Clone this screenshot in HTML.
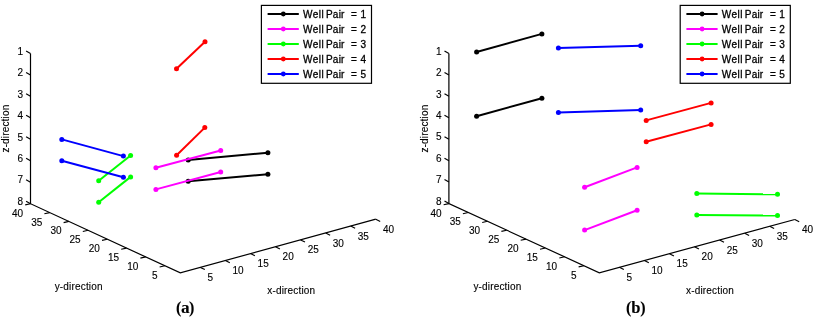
<!DOCTYPE html>
<html><head><meta charset="utf-8"><title>Well pairs</title>
<style>
html,body{margin:0;padding:0;background:#fff;}
svg{display:block;}
text{font-family:"Liberation Sans",Arial,sans-serif;font-size:10.0px;fill:#000;stroke:#000;stroke-width:0.12px;}
text.lg{stroke-width:0.3px;}
text.cap{font-family:"Liberation Serif","Times New Roman",serif;font-weight:bold;font-size:16px;stroke-width:0.1px;}
</style></head><body>
<svg width="814" height="317" viewBox="0 0 814 317">
<rect width="814" height="317" fill="#fff"/>
<polyline points="30.5,53.4 30.5,203.7 180.3,272.9 375.8,219.2" fill="none" stroke="#000" stroke-width="1.2" stroke-linejoin="miter"/>
<line x1="30.5" y1="53.4" x2="26.1" y2="50.9" stroke="#000" stroke-width="1.15"/>
<text x="23.1" y="54.6" text-anchor="end">1</text>
<line x1="30.5" y1="74.9" x2="26.1" y2="72.4" stroke="#000" stroke-width="1.15"/>
<text x="23.1" y="76.1" text-anchor="end">2</text>
<line x1="30.5" y1="96.3" x2="26.1" y2="93.8" stroke="#000" stroke-width="1.15"/>
<text x="23.1" y="97.5" text-anchor="end">3</text>
<line x1="30.5" y1="117.8" x2="26.1" y2="115.3" stroke="#000" stroke-width="1.15"/>
<text x="23.1" y="119.0" text-anchor="end">4</text>
<line x1="30.5" y1="139.3" x2="26.1" y2="136.8" stroke="#000" stroke-width="1.15"/>
<text x="23.1" y="140.5" text-anchor="end">5</text>
<line x1="30.5" y1="160.8" x2="26.1" y2="158.3" stroke="#000" stroke-width="1.15"/>
<text x="23.1" y="162.0" text-anchor="end">6</text>
<line x1="30.5" y1="182.2" x2="26.1" y2="179.7" stroke="#000" stroke-width="1.15"/>
<text x="23.1" y="183.4" text-anchor="end">7</text>
<line x1="30.5" y1="203.7" x2="26.1" y2="201.2" stroke="#000" stroke-width="1.15"/>
<text x="23.1" y="204.9" text-anchor="end">8</text>
<line x1="164.9" y1="265.8" x2="159.6" y2="267.0" stroke="#000" stroke-width="1.15"/>
<text x="157.5" y="278.7" text-anchor="end">5</text>
<line x1="145.7" y1="256.9" x2="140.4" y2="258.1" stroke="#000" stroke-width="1.15"/>
<text x="138.3" y="269.8" text-anchor="end">10</text>
<line x1="126.5" y1="248.1" x2="121.2" y2="249.3" stroke="#000" stroke-width="1.15"/>
<text x="119.1" y="261.0" text-anchor="end">15</text>
<line x1="107.3" y1="239.2" x2="102.0" y2="240.4" stroke="#000" stroke-width="1.15"/>
<text x="99.9" y="252.1" text-anchor="end">20</text>
<line x1="88.1" y1="230.3" x2="82.8" y2="231.5" stroke="#000" stroke-width="1.15"/>
<text x="80.7" y="243.2" text-anchor="end">25</text>
<line x1="68.9" y1="221.4" x2="63.6" y2="222.6" stroke="#000" stroke-width="1.15"/>
<text x="61.5" y="234.3" text-anchor="end">30</text>
<line x1="49.7" y1="212.6" x2="44.4" y2="213.8" stroke="#000" stroke-width="1.15"/>
<text x="42.3" y="225.5" text-anchor="end">35</text>
<line x1="30.5" y1="203.7" x2="25.2" y2="204.9" stroke="#000" stroke-width="1.15"/>
<text x="23.1" y="216.6" text-anchor="end">40</text>
<line x1="200.4" y1="267.4" x2="204.8" y2="269.6" stroke="#000" stroke-width="1.15"/>
<text x="207.5" y="280.9" text-anchor="start">5</text>
<line x1="225.4" y1="260.5" x2="229.8" y2="262.7" stroke="#000" stroke-width="1.15"/>
<text x="232.5" y="274.0" text-anchor="start">10</text>
<line x1="250.5" y1="253.6" x2="254.9" y2="255.8" stroke="#000" stroke-width="1.15"/>
<text x="257.6" y="267.1" text-anchor="start">15</text>
<line x1="275.5" y1="246.7" x2="279.9" y2="248.9" stroke="#000" stroke-width="1.15"/>
<text x="282.6" y="260.2" text-anchor="start">20</text>
<line x1="300.6" y1="239.9" x2="305.0" y2="242.1" stroke="#000" stroke-width="1.15"/>
<text x="307.7" y="253.4" text-anchor="start">25</text>
<line x1="325.7" y1="233.0" x2="330.1" y2="235.2" stroke="#000" stroke-width="1.15"/>
<text x="332.8" y="246.5" text-anchor="start">30</text>
<line x1="350.7" y1="226.1" x2="355.1" y2="228.3" stroke="#000" stroke-width="1.15"/>
<text x="357.8" y="239.6" text-anchor="start">35</text>
<line x1="375.8" y1="219.2" x2="380.2" y2="221.4" stroke="#000" stroke-width="1.15"/>
<text x="382.9" y="232.7" text-anchor="start">40</text>
<text x="78.7" y="289.6" text-anchor="middle" letter-spacing="0.17">y-direction</text>
<text x="291.3" y="293.5" text-anchor="middle" letter-spacing="0.17">x-direction</text>
<text transform="translate(9.1,128.6) rotate(-90)" text-anchor="middle" letter-spacing="0.17">z-direction</text>
<polyline points="448.9,53.4 448.9,203.6 599.3,272.8 794.8,219.5" fill="none" stroke="#000" stroke-width="1.2" stroke-linejoin="miter"/>
<line x1="448.9" y1="53.4" x2="444.5" y2="50.9" stroke="#000" stroke-width="1.15"/>
<text x="441.5" y="54.6" text-anchor="end">1</text>
<line x1="448.9" y1="74.9" x2="444.5" y2="72.4" stroke="#000" stroke-width="1.15"/>
<text x="441.5" y="76.1" text-anchor="end">2</text>
<line x1="448.9" y1="96.3" x2="444.5" y2="93.8" stroke="#000" stroke-width="1.15"/>
<text x="441.5" y="97.5" text-anchor="end">3</text>
<line x1="448.9" y1="117.8" x2="444.5" y2="115.3" stroke="#000" stroke-width="1.15"/>
<text x="441.5" y="119.0" text-anchor="end">4</text>
<line x1="448.9" y1="139.2" x2="444.5" y2="136.7" stroke="#000" stroke-width="1.15"/>
<text x="441.5" y="140.4" text-anchor="end">5</text>
<line x1="448.9" y1="160.7" x2="444.5" y2="158.2" stroke="#000" stroke-width="1.15"/>
<text x="441.5" y="161.9" text-anchor="end">6</text>
<line x1="448.9" y1="182.1" x2="444.5" y2="179.6" stroke="#000" stroke-width="1.15"/>
<text x="441.5" y="183.3" text-anchor="end">7</text>
<line x1="448.9" y1="203.6" x2="444.5" y2="201.1" stroke="#000" stroke-width="1.15"/>
<text x="441.5" y="204.8" text-anchor="end">8</text>
<line x1="583.9" y1="265.7" x2="578.6" y2="266.9" stroke="#000" stroke-width="1.15"/>
<text x="576.5" y="278.6" text-anchor="end">5</text>
<line x1="564.6" y1="256.8" x2="559.3" y2="258.0" stroke="#000" stroke-width="1.15"/>
<text x="557.2" y="269.7" text-anchor="end">10</text>
<line x1="545.3" y1="248.0" x2="540.0" y2="249.2" stroke="#000" stroke-width="1.15"/>
<text x="537.9" y="260.9" text-anchor="end">15</text>
<line x1="526.0" y1="239.1" x2="520.7" y2="240.3" stroke="#000" stroke-width="1.15"/>
<text x="518.6" y="252.0" text-anchor="end">20</text>
<line x1="506.7" y1="230.2" x2="501.4" y2="231.4" stroke="#000" stroke-width="1.15"/>
<text x="499.3" y="243.1" text-anchor="end">25</text>
<line x1="487.5" y1="221.3" x2="482.2" y2="222.5" stroke="#000" stroke-width="1.15"/>
<text x="480.1" y="234.2" text-anchor="end">30</text>
<line x1="468.2" y1="212.5" x2="462.9" y2="213.7" stroke="#000" stroke-width="1.15"/>
<text x="460.8" y="225.4" text-anchor="end">35</text>
<line x1="448.9" y1="203.6" x2="443.6" y2="204.8" stroke="#000" stroke-width="1.15"/>
<text x="441.5" y="216.5" text-anchor="end">40</text>
<line x1="619.4" y1="267.3" x2="623.8" y2="269.5" stroke="#000" stroke-width="1.15"/>
<text x="626.5" y="280.8" text-anchor="start">5</text>
<line x1="644.4" y1="260.5" x2="648.8" y2="262.7" stroke="#000" stroke-width="1.15"/>
<text x="651.5" y="274.0" text-anchor="start">10</text>
<line x1="669.5" y1="253.7" x2="673.9" y2="255.9" stroke="#000" stroke-width="1.15"/>
<text x="676.6" y="267.2" text-anchor="start">15</text>
<line x1="694.5" y1="246.8" x2="698.9" y2="249.0" stroke="#000" stroke-width="1.15"/>
<text x="701.6" y="260.3" text-anchor="start">20</text>
<line x1="719.6" y1="240.0" x2="724.0" y2="242.2" stroke="#000" stroke-width="1.15"/>
<text x="726.7" y="253.5" text-anchor="start">25</text>
<line x1="744.7" y1="233.2" x2="749.1" y2="235.4" stroke="#000" stroke-width="1.15"/>
<text x="751.8" y="246.7" text-anchor="start">30</text>
<line x1="769.7" y1="226.3" x2="774.1" y2="228.5" stroke="#000" stroke-width="1.15"/>
<text x="776.8" y="239.8" text-anchor="start">35</text>
<line x1="794.8" y1="219.5" x2="799.2" y2="221.7" stroke="#000" stroke-width="1.15"/>
<text x="801.9" y="233.0" text-anchor="start">40</text>
<text x="497.4" y="289.6" text-anchor="middle" letter-spacing="0.17">y-direction</text>
<text x="710.0" y="293.5" text-anchor="middle" letter-spacing="0.17">x-direction</text>
<text transform="translate(427.8,128.6) rotate(-90)" text-anchor="middle" letter-spacing="0.17">z-direction</text>
<line x1="188.2" y1="159.9" x2="267.9" y2="152.8" stroke="#000" stroke-width="2"/>
<circle cx="188.2" cy="159.9" r="2.5" fill="#000"/>
<circle cx="267.9" cy="152.8" r="2.5" fill="#000"/>
<line x1="188.2" y1="181.3" x2="267.9" y2="174.2" stroke="#000" stroke-width="2"/>
<circle cx="188.2" cy="181.3" r="2.5" fill="#000"/>
<circle cx="267.9" cy="174.2" r="2.5" fill="#000"/>
<line x1="155.9" y1="167.7" x2="220.7" y2="150.5" stroke="#f0f" stroke-width="2"/>
<circle cx="155.9" cy="167.7" r="2.5" fill="#f0f"/>
<circle cx="220.7" cy="150.5" r="2.5" fill="#f0f"/>
<line x1="155.9" y1="189.4" x2="220.7" y2="172.0" stroke="#f0f" stroke-width="2"/>
<circle cx="155.9" cy="189.4" r="2.5" fill="#f0f"/>
<circle cx="220.7" cy="172.0" r="2.5" fill="#f0f"/>
<line x1="130.6" y1="155.5" x2="98.7" y2="180.7" stroke="#0f0" stroke-width="2"/>
<circle cx="130.6" cy="155.5" r="2.5" fill="#0f0"/>
<circle cx="98.7" cy="180.7" r="2.5" fill="#0f0"/>
<line x1="130.6" y1="176.9" x2="98.7" y2="202.2" stroke="#0f0" stroke-width="2"/>
<circle cx="130.6" cy="176.9" r="2.5" fill="#0f0"/>
<circle cx="98.7" cy="202.2" r="2.5" fill="#0f0"/>
<line x1="176.5" y1="68.7" x2="205.0" y2="41.7" stroke="#f00" stroke-width="2"/>
<circle cx="176.5" cy="68.7" r="2.5" fill="#f00"/>
<circle cx="205.0" cy="41.7" r="2.5" fill="#f00"/>
<line x1="176.6" y1="155.3" x2="204.8" y2="127.6" stroke="#f00" stroke-width="2"/>
<circle cx="176.6" cy="155.3" r="2.5" fill="#f00"/>
<circle cx="204.8" cy="127.6" r="2.5" fill="#f00"/>
<line x1="61.8" y1="139.4" x2="123.4" y2="156.1" stroke="#00f" stroke-width="2"/>
<circle cx="61.8" cy="139.4" r="2.5" fill="#00f"/>
<circle cx="123.4" cy="156.1" r="2.5" fill="#00f"/>
<line x1="61.8" y1="160.8" x2="123.4" y2="177.3" stroke="#00f" stroke-width="2"/>
<circle cx="61.8" cy="160.8" r="2.5" fill="#00f"/>
<circle cx="123.4" cy="177.3" r="2.5" fill="#00f"/>
<line x1="476.6" y1="52.0" x2="541.9" y2="33.9" stroke="#000" stroke-width="2"/>
<circle cx="476.6" cy="52.0" r="2.5" fill="#000"/>
<circle cx="541.9" cy="33.9" r="2.5" fill="#000"/>
<line x1="476.6" y1="116.2" x2="541.9" y2="98.2" stroke="#000" stroke-width="2"/>
<circle cx="476.6" cy="116.2" r="2.5" fill="#000"/>
<circle cx="541.9" cy="98.2" r="2.5" fill="#000"/>
<line x1="584.6" y1="187.2" x2="637.1" y2="167.4" stroke="#f0f" stroke-width="2"/>
<circle cx="584.6" cy="187.2" r="2.5" fill="#f0f"/>
<circle cx="637.1" cy="167.4" r="2.5" fill="#f0f"/>
<line x1="584.6" y1="230.1" x2="637.1" y2="210.3" stroke="#f0f" stroke-width="2"/>
<circle cx="584.6" cy="230.1" r="2.5" fill="#f0f"/>
<circle cx="637.1" cy="210.3" r="2.5" fill="#f0f"/>
<line x1="696.8" y1="193.4" x2="777.5" y2="194.3" stroke="#0f0" stroke-width="2"/>
<circle cx="696.8" cy="193.4" r="2.5" fill="#0f0"/>
<circle cx="777.5" cy="194.3" r="2.5" fill="#0f0"/>
<line x1="696.8" y1="215.0" x2="777.5" y2="215.6" stroke="#0f0" stroke-width="2"/>
<circle cx="696.8" cy="215.0" r="2.5" fill="#0f0"/>
<circle cx="777.5" cy="215.6" r="2.5" fill="#0f0"/>
<line x1="646.2" y1="120.4" x2="711.1" y2="102.9" stroke="#f00" stroke-width="2"/>
<circle cx="646.2" cy="120.4" r="2.5" fill="#f00"/>
<circle cx="711.1" cy="102.9" r="2.5" fill="#f00"/>
<line x1="646.2" y1="141.8" x2="711.1" y2="124.4" stroke="#f00" stroke-width="2"/>
<circle cx="646.2" cy="141.8" r="2.5" fill="#f00"/>
<circle cx="711.1" cy="124.4" r="2.5" fill="#f00"/>
<line x1="558.4" y1="48.1" x2="640.7" y2="45.7" stroke="#00f" stroke-width="2"/>
<circle cx="558.4" cy="48.1" r="2.5" fill="#00f"/>
<circle cx="640.7" cy="45.7" r="2.5" fill="#00f"/>
<line x1="558.4" y1="112.4" x2="640.7" y2="110.0" stroke="#00f" stroke-width="2"/>
<circle cx="558.4" cy="112.4" r="2.5" fill="#00f"/>
<circle cx="640.7" cy="110.0" r="2.5" fill="#00f"/>
<rect x="261.4" y="5.4" width="110.1" height="77.9" fill="#fff" stroke="#000" stroke-width="1.2"/>
<line x1="267.6" y1="14.0" x2="298.8" y2="14.0" stroke="#000" stroke-width="2"/>
<circle cx="283.3" cy="14.0" r="2.4" fill="#000"/>
<text class="lg" y="18.4"><tspan x="302.9" letter-spacing="0.5">Well</tspan> <tspan x="326.0" letter-spacing="0.2">Pair</tspan> <tspan x="351.1">=</tspan> <tspan x="360.5">1</tspan></text>
<line x1="267.6" y1="29.0" x2="298.8" y2="29.0" stroke="#f0f" stroke-width="2"/>
<circle cx="283.3" cy="29.0" r="2.4" fill="#f0f"/>
<text class="lg" y="33.4"><tspan x="302.9" letter-spacing="0.5">Well</tspan> <tspan x="326.0" letter-spacing="0.2">Pair</tspan> <tspan x="351.1">=</tspan> <tspan x="360.5">2</tspan></text>
<line x1="267.6" y1="44.0" x2="298.8" y2="44.0" stroke="#0f0" stroke-width="2"/>
<circle cx="283.3" cy="44.0" r="2.4" fill="#0f0"/>
<text class="lg" y="48.4"><tspan x="302.9" letter-spacing="0.5">Well</tspan> <tspan x="326.0" letter-spacing="0.2">Pair</tspan> <tspan x="351.1">=</tspan> <tspan x="360.5">3</tspan></text>
<line x1="267.6" y1="59.0" x2="298.8" y2="59.0" stroke="#f00" stroke-width="2"/>
<circle cx="283.3" cy="59.0" r="2.4" fill="#f00"/>
<text class="lg" y="63.4"><tspan x="302.9" letter-spacing="0.5">Well</tspan> <tspan x="326.0" letter-spacing="0.2">Pair</tspan> <tspan x="351.1">=</tspan> <tspan x="360.5">4</tspan></text>
<line x1="267.6" y1="74.0" x2="298.8" y2="74.0" stroke="#00f" stroke-width="2"/>
<circle cx="283.3" cy="74.0" r="2.4" fill="#00f"/>
<text class="lg" y="78.4"><tspan x="302.9" letter-spacing="0.5">Well</tspan> <tspan x="326.0" letter-spacing="0.2">Pair</tspan> <tspan x="351.1">=</tspan> <tspan x="360.5">5</tspan></text>
<rect x="680.2" y="5.4" width="110.1" height="77.9" fill="#fff" stroke="#000" stroke-width="1.2"/>
<line x1="686.4" y1="14.0" x2="717.6" y2="14.0" stroke="#000" stroke-width="2"/>
<circle cx="702.1" cy="14.0" r="2.4" fill="#000"/>
<text class="lg" y="18.4"><tspan x="721.7" letter-spacing="0.5">Well</tspan> <tspan x="744.8" letter-spacing="0.2">Pair</tspan> <tspan x="769.9">=</tspan> <tspan x="779.3">1</tspan></text>
<line x1="686.4" y1="29.0" x2="717.6" y2="29.0" stroke="#f0f" stroke-width="2"/>
<circle cx="702.1" cy="29.0" r="2.4" fill="#f0f"/>
<text class="lg" y="33.4"><tspan x="721.7" letter-spacing="0.5">Well</tspan> <tspan x="744.8" letter-spacing="0.2">Pair</tspan> <tspan x="769.9">=</tspan> <tspan x="779.3">2</tspan></text>
<line x1="686.4" y1="44.0" x2="717.6" y2="44.0" stroke="#0f0" stroke-width="2"/>
<circle cx="702.1" cy="44.0" r="2.4" fill="#0f0"/>
<text class="lg" y="48.4"><tspan x="721.7" letter-spacing="0.5">Well</tspan> <tspan x="744.8" letter-spacing="0.2">Pair</tspan> <tspan x="769.9">=</tspan> <tspan x="779.3">3</tspan></text>
<line x1="686.4" y1="59.0" x2="717.6" y2="59.0" stroke="#f00" stroke-width="2"/>
<circle cx="702.1" cy="59.0" r="2.4" fill="#f00"/>
<text class="lg" y="63.4"><tspan x="721.7" letter-spacing="0.5">Well</tspan> <tspan x="744.8" letter-spacing="0.2">Pair</tspan> <tspan x="769.9">=</tspan> <tspan x="779.3">4</tspan></text>
<line x1="686.4" y1="74.0" x2="717.6" y2="74.0" stroke="#00f" stroke-width="2"/>
<circle cx="702.1" cy="74.0" r="2.4" fill="#00f"/>
<text class="lg" y="78.4"><tspan x="721.7" letter-spacing="0.5">Well</tspan> <tspan x="744.8" letter-spacing="0.2">Pair</tspan> <tspan x="769.9">=</tspan> <tspan x="779.3">5</tspan></text>
<text y="312.9" class="cap"><tspan x="176.0">(</tspan><tspan x="180.9" textLength="8.6" lengthAdjust="spacingAndGlyphs">a</tspan><tspan x="189.1">)</tspan></text>
<text y="312.9" class="cap"><tspan x="626.0">(</tspan><tspan x="631.2" textLength="9.2" lengthAdjust="spacingAndGlyphs">b</tspan><tspan x="640.3">)</tspan></text>
</svg>
</body></html>
